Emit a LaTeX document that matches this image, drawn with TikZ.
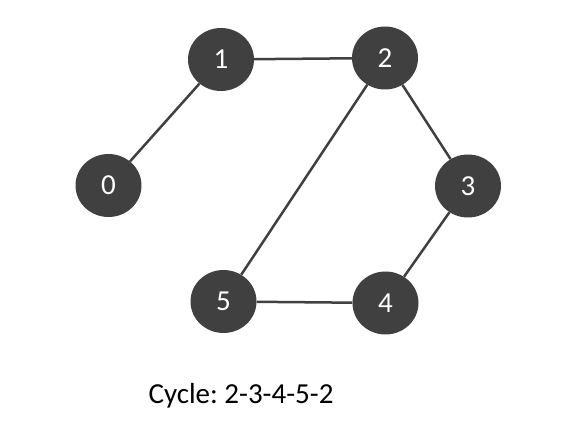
\documentclass[tikz,border=0pt]{standalone}
\usepackage{fontspec}
\setmainfont{Carlito}
\usepackage{tikz}
\usetikzlibrary{positioning, calc, shapes}
\definecolor{vertexgray}{HTML}{404040}
\frenchspacing
\tikzset{
  vertex/.style={ellipse, fill=vertexgray, draw=none, minimum width=66pt,
    minimum height=63pt, inner sep=0pt, text=white, font=\fontsize{29}{29}\selectfont},
  link/.style={draw=vertexgray, line width=2.5pt}
}

\begin{document}
\begin{tikzpicture}[x=1pt, y=-1pt]

      \useasboundingbox (0,0) rectangle (571,438);

      % VERTICES

      \node[vertex] (v1) at (221,59.5) {1};
      \node[vertex] (v2) at (385,58) {2};
      \node[vertex] (v0) at (108.5,185.5) {0};
      \node[vertex] (v3) at (468,186) {3};
      \node[vertex] (v5) at (223.5,301.5) {5};
      \node[vertex] (v4) at (385.5,303) {4};

      % EDGES

      \draw[link] (v1) -- (v2);
      \draw[link] (v1) -- (v0);
      \draw[link] (v2) -- (v5);
      \draw[link] (v2) -- (v3);
      \draw[link] (v3) -- (v4);
      \draw[link] (v5) -- (v4);

      % LABELS

      \node[font=\fontsize{29}{29}\selectfont, anchor=base] (cycleLabel) at (241,404) {Cycle: 2-3-4-5-2};

    \end{tikzpicture}
\end{document}
